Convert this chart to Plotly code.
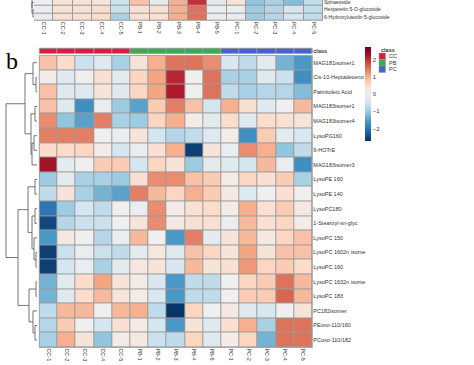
import plotly.graph_objects as go

# ---------------- data ----------------
columns = ["CC-1", "CC-2", "CC-3", "CC-4", "CC-5",
           "PB-1", "PB-2", "PB-3", "PB-4", "PB-5",
           "PC-1", "PC-2", "PC-3", "PC-4", "PC-5"]
col_class = ["CC"] * 5 + ["PB"] * 5 + ["PC"] * 5
class_names = ["CC", "PB", "PC"]
class_colors = ["#D71E42", "#3FAA4C", "#4264CF"]

rows = ["MAG181isomer1", "Cis-10-Heptadeceno", "Palmitoleic Acid", "MAG183isomer1",
        "MAG183isomer4", "LysoPG160", "9-HOTrE", "MAG183isomer3", "LysoPE 160",
        "LysoPE 140", "LysoPC180", "1-Stearoyl-sn-glyc", "LysoPC 150",
        "LysoPC 1602n isome", "LysoPC 160", "LysoPC 1632n isome", "LysoPC 183",
        "PC182isomer", "PEoxo-110/160", "PCoxo-110/182"]

z_main = [
    [0.8, 0.5, -0.6, -0.3, -0.9, 0.3, 1.0, 1.5, 1.5, 1.3, -0.4, -0.7, -0.2, -1.3, -1.6],
    [0.1, -0.3, 0.0, 0.4, -0.2, 0.6, 1.1, 2.1, 0.0, 1.5, -0.9, -0.9, -0.3, -0.6, -1.7],
    [0.8, -0.3, -0.3, 0.3, -0.3, 0.6, 1.1, 2.2, 0.0, 1.5, -0.7, -0.9, -0.8, -0.8, -1.2],
    [0.8, -0.3, -1.7, -0.1, -1.0, -1.5, 0.7, 1.4, 0.8, -0.5, 1.0, 0.4, -0.3, 0.0, 0.9],
    [1.3, -1.1, -1.5, 1.4, -0.9, -1.0, 0.6, 1.0, 0.1, -0.2, 0.5, -0.3, 0.5, 0.4, 0.3],
    [1.4, 1.4, 1.4, 0.0, -0.1, 0.3, -0.5, -0.8, -0.7, -0.3, 0.1, -1.7, 0.7, -0.2, -0.4],
    [0.5, 0.5, 0.6, 0.1, -0.5, -0.1, 0.4, 1.0, -2.6, 0.3, -0.1, 1.3, 1.0, -1.1, -0.7],
    [2.3, -0.2, 0.0, 0.7, 0.7, -0.5, 0.6, 0.3, -1.0, -0.2, -0.3, -0.5, 0.9, -0.1, -1.7],
    [-1.0, -0.2, -0.9, -0.9, -1.0, 0.4, 1.3, 1.3, 0.8, 0.7, 0.1, 0.6, 0.4, 0.7, -0.9],
    [-0.7, 0.3, -0.9, -1.3, -1.5, 1.4, 0.9, 0.6, 1.0, 0.7, 0.2, -0.3, 0.0, 0.4, 0.0],
    [-2.0, -1.0, -0.5, -0.7, 0.0, -0.1, 1.3, 0.1, 0.4, 0.5, 0.1, 1.0, 0.4, 0.7, 0.2],
    [-2.5, -0.8, -0.6, -0.6, 0.0, 0.3, 1.3, 0.2, 0.4, 0.4, -0.1, 0.9, 0.4, 0.6, 0.1],
    [-1.6, 0.2, 0.0, -0.8, -0.1, 0.9, 0.0, -1.6, 1.4, -0.2, 0.3, 0.9, 0.2, 0.6, 0.8],
    [-2.6, -0.6, -0.1, -0.6, -0.7, -0.2, 0.2, -0.3, 0.8, 0.6, 0.3, 1.1, 0.3, 0.8, 0.8],
    [-2.6, -0.5, -0.1, -0.9, -0.2, 0.2, 0.3, -0.4, 0.9, 0.3, 0.4, 1.2, 0.6, 0.7, 0.5],
    [-1.3, -0.2, 0.5, 1.1, 0.3, 0.1, -0.4, -1.6, -0.7, -0.7, 0.0, 0.6, 0.7, 1.5, 0.9],
    [-1.3, -0.3, 0.5, 0.9, 0.3, 0.1, -0.4, -1.6, -0.7, -0.7, 0.0, 0.7, 0.7, 1.6, 0.9],
    [-0.7, 0.9, 0.9, 0.0, 0.9, 1.0, -0.7, -2.7, 0.6, 0.0, 0.2, -0.3, -0.4, 0.0, 0.3],
    [-0.8, 0.7, 0.0, -0.5, 0.4, 0.1, -0.5, -1.6, 0.3, -0.3, 0.4, 1.0, -0.9, 1.5, 1.5],
    [-0.9, 1.0, 0.3, -1.1, 0.1, 0.2, -0.6, -0.7, 0.6, -0.3, 0.1, 0.6, -1.3, 1.5, 1.5],
]

# row dendrogram (left, right, height); leaves 0..19, merged nodes 20..
row_linkage = [
    (1, 2, 1), (0, 20, 4), (3, 4, 2), (5, 6, 3), (23, 7, 5), (22, 24, 6), (21, 25, 12),
    (8, 9, 2), (10, 11, 2), (13, 14, 1), (12, 29, 3), (28, 30, 5), (27, 31, 9),
    (15, 16, 1), (18, 19, 2), (17, 34, 4), (33, 35, 8), (32, 36, 19), (26, 37, 31),
]

# partial panel (a) visible at the top
top_rows = ["Spiraeoside", "Hesperetin 5-O-glucoside", "6-Hydroxyluteolin 5-glucoside"]
z_top = [
    [0.0, 0.3, 0.3, 0.3, -0.6, 0.8, -0.2, 1.0, 2.0, -0.2, 0.3, -1.1, -0.9, -1.2, -0.7],
    [-0.1, 0.4, 0.4, 0.5, -0.6, 0.4, 0.4, 1.0, 1.5, -0.1, -0.1, -1.0, -0.8, -0.5, -0.7],
    [-0.1, 0.4, 0.4, 0.5, -0.9, 0.4, 0.4, 1.0, 1.5, -0.1, -0.1, -1.0, -0.8, -0.5, -0.7],
]
top_linkage = [(1, 2, 1.0), (0, 3, 2.0)]

colorbar_ticks = [-2, -1, 0, 1, 2]
zlim = 2.75

# ---------------- styling / layout helpers ----------------
W, H = 474, 365
def fx(px): return px / W
def fy(py): return 1 - py / H

FONT = "Liberation Sans"
TXT = "#333333"
GRID = "#9a9a9a"
rdbu = ["#053061", "#2166AC", "#4393C3", "#92C5DE", "#D1E5F0", "#EFEFEF",
        "#FDDBC7", "#F4A582", "#D6604D", "#B2182B", "#67001F"]
cscale = [[i / (len(rdbu) - 1), c] for i, c in enumerate(rdbu)]

MAIN_X = (39.3, 312.3)
MAIN_Y = (55.4, 347.4)
CLASS_Y = (48.2, 53.5)
TOP_X = (34.0, 323.0)
TOP_Y = (0.0, 20.7)
TOP_RANGE = [2.5, -0.32]

def dendro_xy(n_leaves, linkage, leaf_pos):
    pos = {i: (0.0, leaf_pos[i]) for i in range(n_leaves)}
    xs, ys = [], []
    for k, (a, b, h) in enumerate(linkage):
        ha, ya = pos[a]
        hb, yb = pos[b]
        xs += [ha, h, h, hb, None]
        ys += [ya, ya, yb, yb, None]
        pos[n_leaves + k] = (h, (ya + yb) / 2)
    return xs, ys

fig = go.Figure()

# main heatmap
fig.add_trace(go.Heatmap(
    z=z_main, x=list(range(len(columns))), y=list(range(len(rows))),
    colorscale=cscale, zmin=-zlim, zmax=zlim, xgap=1, ygap=1,
    xaxis="x", yaxis="y",
    colorbar=dict(x=fx(365), xanchor="left", xpad=0, y=fy(47.3), yanchor="top", ypad=0,
                  len=94.4, lenmode="pixels", thickness=6, thicknessmode="pixels",
                  outlinewidth=0, tickvals=colorbar_ticks, ticks="",
                  tickfont=dict(family=FONT, size=6, color=TXT)),
))

# class annotation bar
class_idx = [class_names.index(c) for c in col_class]
n = len(class_names)
class_scale = []
for i, c in enumerate(class_colors):
    class_scale += [[i / n, c], [(i + 1) / n, c]]
fig.add_trace(go.Heatmap(
    z=[class_idx], x=list(range(len(columns))), y=[0],
    colorscale=class_scale, zmin=-0.5, zmax=n - 0.5, xgap=1, showscale=False,
    xaxis="x", yaxis="y2",
))

# top partial panel
fig.add_trace(go.Heatmap(
    z=z_top, x=list(range(len(columns))), y=list(range(len(top_rows))),
    colorscale=cscale, zmin=-zlim, zmax=zlim, xgap=1, ygap=1, showscale=False,
    xaxis="x3", yaxis="y3",
))

# row dendrogram
dx, dy = dendro_xy(len(rows), row_linkage, list(range(len(rows))))
fig.add_trace(go.Scatter(x=dx, y=dy, mode="lines", line=dict(color="#505050", width=0.8),
                         hoverinfo="skip", showlegend=False, xaxis="x4", yaxis="y4"))
tx, ty = dendro_xy(len(top_rows), top_linkage, list(range(len(top_rows))))
tx += [2.0, 2.0]
ty += [(0 + 1.5) / 2, -2]
fig.add_trace(go.Scatter(x=tx, y=ty, mode="lines", line=dict(color="#505050", width=0.8),
                         hoverinfo="skip", showlegend=False, xaxis="x5", yaxis="y5"))

tickfont = dict(family=FONT, size=5.5, color=TXT)
hidden = dict(showgrid=False, zeroline=False, showticklabels=False, ticks="", showline=False)

fig.update_layout(
    width=W, height=H, autosize=False,
    margin=dict(l=0, r=0, t=0, b=0, pad=0),
    paper_bgcolor="white", plot_bgcolor="rgba(0,0,0,0)",
    showlegend=False,
    xaxis=dict(domain=[fx(MAIN_X[0]), fx(MAIN_X[1])], range=[-0.5, len(columns) - 0.5],
               tickvals=list(range(len(columns))), ticktext=columns, tickangle=90,
               ticks="", ticklabelstandoff=0, showgrid=False, zeroline=False,
               tickfont=dict(family=FONT, size=5.5, color=TXT), anchor="y"),
    yaxis=dict(domain=[fy(MAIN_Y[1]), fy(MAIN_Y[0])], range=[len(rows) - 0.5, -0.5],
               tickvals=list(range(len(rows))), ticktext=rows, side="right",
               ticks="", showgrid=False, zeroline=False, tickfont=tickfont, anchor="x"),
    yaxis2=dict(domain=[fy(CLASS_Y[1]), fy(CLASS_Y[0])], range=[-0.5, 0.5],
                tickvals=[0], ticktext=["<b>class</b>"], side="right", ticks="",
                showgrid=False, zeroline=False, tickfont=tickfont, anchor="x"),
    xaxis3=dict(domain=[fx(TOP_X[0]), fx(TOP_X[1])], range=[-0.5, len(columns) - 0.5],
                tickvals=list(range(len(columns))), ticktext=columns, tickangle=90,
                ticks="", ticklabelstandoff=0, showgrid=False, zeroline=False,
                tickfont=dict(family=FONT, size=5.5, color=TXT), anchor="y3"),
    yaxis3=dict(domain=[fy(TOP_Y[1]), fy(TOP_Y[0])], range=TOP_RANGE,
                tickvals=list(range(len(top_rows))), ticktext=top_rows, side="right",
                ticks="", showgrid=False, zeroline=False, ticklabeloverflow="allow",
                tickfont=dict(family=FONT, size=5, color=TXT), anchor="x3"),
    xaxis4=dict(domain=[0, fx(MAIN_X[0])], range=[37, -2.3], anchor="y4", **hidden),
    yaxis4=dict(domain=[fy(MAIN_Y[1]), fy(MAIN_Y[0])], range=[len(rows) - 0.5, -0.5],
                anchor="x4", **hidden),
    xaxis5=dict(domain=[0, fx(TOP_X[0])], range=[34, 0], anchor="y5", **hidden),
    yaxis5=dict(domain=[fy(TOP_Y[1]), fy(TOP_Y[0])], range=TOP_RANGE, anchor="x5", **hidden),
)

shapes = []
# gray cell-border backgrounds under heatmaps
for xr, yr in [("x", "y"), ("x", "y2"), ("x3", "y3")]:
    shapes.append(dict(type="rect", xref=f"{xr} domain", yref=f"{yr} domain",
                       x0=0, x1=1, y0=0, y1=1, layer="below",
                       fillcolor=GRID, line=dict(width=0)))
# outer borders
for (x0, x1), (y0, y1) in [(MAIN_X, MAIN_Y), (MAIN_X, CLASS_Y)]:
    shapes.append(dict(type="rect", xref="paper", yref="paper",
                       x0=fx(x0), x1=fx(x1), y0=fy(y1), y1=fy(y0),
                       line=dict(color=GRID, width=0.8), fillcolor="rgba(0,0,0,0)"))

annotations = [
    dict(text="b", x=fx(4), y=fy(61), xref="paper", yref="paper", xanchor="left",
         yanchor="middle", showarrow=False,
         font=dict(family="Liberation Serif", size=24, color="black")),
    dict(text="<b>class</b>", x=fx(379), y=fy(50.5), xref="paper", yref="paper",
         xanchor="left", yanchor="middle", showarrow=False, font=tickfont),
]
# legend for class colours
leg_x0, leg_y0, leg_h, leg_w = 379, 53.0, 6.5, 6.5
for i, (name, col) in enumerate(zip(class_names, class_colors)):
    ya = leg_y0 + i * leg_h
    shapes.append(dict(type="rect", xref="paper", yref="paper",
                       x0=fx(leg_x0), x1=fx(leg_x0 + leg_w), y0=fy(ya + leg_h), y1=fy(ya),
                       fillcolor=col, line=dict(color=GRID, width=0.5)))
    annotations.append(dict(text=name, x=fx(leg_x0 + leg_w + 1.5), y=fy(ya + leg_h / 2),
                            xref="paper", yref="paper", xanchor="left", yanchor="middle",
                            showarrow=False, font=tickfont))

fig.update_layout(shapes=shapes, annotations=annotations)
fig.write_html("out.html", config={"displayModeBar": False},
               post_script="document.body.style.margin='0';document.body.style.overflow='hidden';")
